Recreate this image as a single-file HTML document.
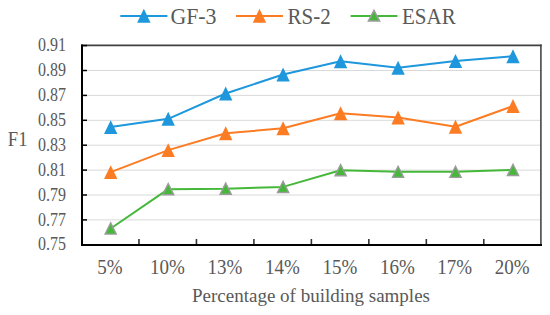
<!DOCTYPE html>
<html><head><meta charset="utf-8"><style>
html,body{margin:0;padding:0;background:#fff;}
body{width:550px;height:315px;overflow:hidden;}
svg{display:block;}
text{font-family:"Liberation Serif",serif;fill:#595959;}
.yl{font-size:16px;}
.xl{font-size:19px;}
.lg{font-size:21px;}
.tt{font-size:19px;}
.f1{font-size:18.6px;}
</style></head><body>
<svg width="550" height="315" viewBox="0 0 550 315">
<rect x="0" y="0" width="550" height="315" fill="#fff"/>
<g>
<line x1="83" y1="70.50" x2="540" y2="70.50" stroke="#D9D9D9" stroke-width="1"/>
<line x1="83" y1="95.40" x2="540" y2="95.40" stroke="#D9D9D9" stroke-width="1"/>
<line x1="83" y1="120.30" x2="540" y2="120.30" stroke="#D9D9D9" stroke-width="1"/>
<line x1="83" y1="145.20" x2="540" y2="145.20" stroke="#D9D9D9" stroke-width="1"/>
<line x1="83" y1="170.10" x2="540" y2="170.10" stroke="#D9D9D9" stroke-width="1"/>
<line x1="83" y1="195.00" x2="540" y2="195.00" stroke="#D9D9D9" stroke-width="1"/>
<line x1="83" y1="219.90" x2="540" y2="219.90" stroke="#D9D9D9" stroke-width="1"/>
<line x1="81" y1="45.4" x2="541.8" y2="45.4" stroke="#404040" stroke-width="1.7"/>
<line x1="540.9" y1="44.6" x2="540.9" y2="245" stroke="#454545" stroke-width="1.6"/>
<line x1="82" y1="44.5" x2="82" y2="246" stroke="#000" stroke-width="2"/>
<line x1="81" y1="245" x2="542" y2="245" stroke="#000" stroke-width="2"/>
<line x1="83" y1="45.60" x2="87" y2="45.60" stroke="#000" stroke-width="1.5"/>
<line x1="83" y1="70.50" x2="87" y2="70.50" stroke="#000" stroke-width="1.5"/>
<line x1="83" y1="95.40" x2="87" y2="95.40" stroke="#000" stroke-width="1.5"/>
<line x1="83" y1="120.30" x2="87" y2="120.30" stroke="#000" stroke-width="1.5"/>
<line x1="83" y1="145.20" x2="87" y2="145.20" stroke="#000" stroke-width="1.5"/>
<line x1="83" y1="170.10" x2="87" y2="170.10" stroke="#000" stroke-width="1.5"/>
<line x1="83" y1="195.00" x2="87" y2="195.00" stroke="#000" stroke-width="1.5"/>
<line x1="83" y1="219.90" x2="87" y2="219.90" stroke="#000" stroke-width="1.5"/>
<line x1="83" y1="244.80" x2="87" y2="244.80" stroke="#000" stroke-width="1.5"/>
<line x1="138.97" y1="239" x2="138.97" y2="244" stroke="#333" stroke-width="1.6"/>
<line x1="196.44" y1="239" x2="196.44" y2="244" stroke="#333" stroke-width="1.6"/>
<line x1="253.91" y1="239" x2="253.91" y2="244" stroke="#333" stroke-width="1.6"/>
<line x1="311.38" y1="239" x2="311.38" y2="244" stroke="#333" stroke-width="1.6"/>
<line x1="368.85" y1="239" x2="368.85" y2="244" stroke="#333" stroke-width="1.6"/>
<line x1="426.32" y1="239" x2="426.32" y2="244" stroke="#333" stroke-width="1.6"/>
<line x1="483.79" y1="239" x2="483.79" y2="244" stroke="#333" stroke-width="1.6"/>
<polyline points="110.70,228.50 168.20,189.20 225.70,188.70 283.10,186.90 340.60,170.20 398.10,171.80 455.50,171.80 513.00,169.90" fill="none" stroke="#45B83A" stroke-width="2.0" stroke-linejoin="round" stroke-linecap="round"/>
<polygon points="110.70,222.90 116.30,234.10 105.10,234.10" fill="#45B83A" stroke="#9C9C9C" stroke-width="1.4" stroke-linejoin="miter"/>
<polygon points="168.20,183.60 173.80,194.80 162.60,194.80" fill="#45B83A" stroke="#9C9C9C" stroke-width="1.4" stroke-linejoin="miter"/>
<polygon points="225.70,183.10 231.30,194.30 220.10,194.30" fill="#45B83A" stroke="#9C9C9C" stroke-width="1.4" stroke-linejoin="miter"/>
<polygon points="283.10,181.30 288.70,192.50 277.50,192.50" fill="#45B83A" stroke="#9C9C9C" stroke-width="1.4" stroke-linejoin="miter"/>
<polygon points="340.60,164.60 346.20,175.80 335.00,175.80" fill="#45B83A" stroke="#9C9C9C" stroke-width="1.4" stroke-linejoin="miter"/>
<polygon points="398.10,166.20 403.70,177.40 392.50,177.40" fill="#45B83A" stroke="#9C9C9C" stroke-width="1.4" stroke-linejoin="miter"/>
<polygon points="455.50,166.20 461.10,177.40 449.90,177.40" fill="#45B83A" stroke="#9C9C9C" stroke-width="1.4" stroke-linejoin="miter"/>
<polygon points="513.00,164.30 518.60,175.50 507.40,175.50" fill="#45B83A" stroke="#9C9C9C" stroke-width="1.4" stroke-linejoin="miter"/>
<polyline points="110.70,172.10 168.20,150.10 225.70,133.30 283.10,128.30 340.60,113.30 398.10,117.50 455.50,126.80 513.00,106.00" fill="none" stroke="#FC7C24" stroke-width="2.0" stroke-linejoin="round" stroke-linecap="round"/>
<polygon points="110.70,165.15 117.40,179.05 104.00,179.05" fill="#FC7C24"/>
<polygon points="168.20,143.15 174.90,157.05 161.50,157.05" fill="#FC7C24"/>
<polygon points="225.70,126.35 232.40,140.25 219.00,140.25" fill="#FC7C24"/>
<polygon points="283.10,121.35 289.80,135.25 276.40,135.25" fill="#FC7C24"/>
<polygon points="340.60,106.35 347.30,120.25 333.90,120.25" fill="#FC7C24"/>
<polygon points="398.10,110.55 404.80,124.45 391.40,124.45" fill="#FC7C24"/>
<polygon points="455.50,119.85 462.20,133.75 448.80,133.75" fill="#FC7C24"/>
<polygon points="513.00,99.05 519.70,112.95 506.30,112.95" fill="#FC7C24"/>
<polyline points="110.70,127.10 168.20,118.80 225.70,93.50 283.10,74.50 340.60,61.30 398.10,67.70 455.50,61.00 513.00,56.20" fill="none" stroke="#1E97DC" stroke-width="2.0" stroke-linejoin="round" stroke-linecap="round"/>
<polygon points="110.70,120.15 117.40,134.05 104.00,134.05" fill="#1E97DC"/>
<polygon points="168.20,111.85 174.90,125.75 161.50,125.75" fill="#1E97DC"/>
<polygon points="225.70,86.55 232.40,100.45 219.00,100.45" fill="#1E97DC"/>
<polygon points="283.10,67.55 289.80,81.45 276.40,81.45" fill="#1E97DC"/>
<polygon points="340.60,54.35 347.30,68.25 333.90,68.25" fill="#1E97DC"/>
<polygon points="398.10,60.75 404.80,74.65 391.40,74.65" fill="#1E97DC"/>
<polygon points="455.50,54.05 462.20,67.95 448.80,67.95" fill="#1E97DC"/>
<polygon points="513.00,49.25 519.70,63.15 506.30,63.15" fill="#1E97DC"/>
<line x1="120.3" y1="16" x2="167.4" y2="16" stroke="#1E97DC" stroke-width="2.2"/>
<polygon points="143.85,8.75 150.55,22.65 137.15,22.65" fill="#1E97DC"/>
<line x1="236.0" y1="16" x2="283.0" y2="16" stroke="#FC7C24" stroke-width="2.2"/>
<polygon points="259.50,8.75 266.20,22.65 252.80,22.65" fill="#FC7C24"/>
<line x1="350.6" y1="16" x2="397.4" y2="16" stroke="#45B83A" stroke-width="2.2"/>
<polygon points="374.00,10.30 379.60,21.10 368.40,21.10" fill="#45B83A" stroke="#9C9C9C" stroke-width="1.5" stroke-linejoin="miter"/>
</g>
<g>
<text transform="translate(66.00,51.20) scale(1,1.12)" text-anchor="end" class="yl">0.91</text>
<text transform="translate(66.00,76.10) scale(1,1.12)" text-anchor="end" class="yl">0.89</text>
<text transform="translate(66.00,101.00) scale(1,1.12)" text-anchor="end" class="yl">0.87</text>
<text transform="translate(66.00,125.90) scale(1,1.12)" text-anchor="end" class="yl">0.85</text>
<text transform="translate(66.00,150.80) scale(1,1.12)" text-anchor="end" class="yl">0.83</text>
<text transform="translate(66.00,175.70) scale(1,1.12)" text-anchor="end" class="yl">0.81</text>
<text transform="translate(66.00,200.60) scale(1,1.12)" text-anchor="end" class="yl">0.79</text>
<text transform="translate(66.00,225.50) scale(1,1.12)" text-anchor="end" class="yl">0.77</text>
<text transform="translate(66.00,250.40) scale(1,1.12)" text-anchor="end" class="yl">0.75</text>
<text transform="translate(109.90,273.60) scale(1,1.05)" text-anchor="middle" class="xl">5%</text>
<text transform="translate(167.40,273.60) scale(1,1.05)" text-anchor="middle" class="xl">10%</text>
<text transform="translate(224.90,273.60) scale(1,1.05)" text-anchor="middle" class="xl">13%</text>
<text transform="translate(282.30,273.60) scale(1,1.05)" text-anchor="middle" class="xl">14%</text>
<text transform="translate(339.80,273.60) scale(1,1.05)" text-anchor="middle" class="xl">15%</text>
<text transform="translate(397.30,273.60) scale(1,1.05)" text-anchor="middle" class="xl">16%</text>
<text transform="translate(454.70,273.60) scale(1,1.05)" text-anchor="middle" class="xl">17%</text>
<text transform="translate(512.20,273.60) scale(1,1.05)" text-anchor="middle" class="xl">20%</text>
<text transform="translate(7.80,145.60) scale(1,1.1)" class="f1">F1</text>
<text transform="translate(311.00,301.90) scale(1,1.0)" text-anchor="middle" class="tt">Percentage of building samples</text>
<text transform="translate(170.40,23.80) scale(1.04,1.08)" class="lg">GF-3</text>
<text transform="translate(287.50,23.80) scale(1,1.08)" class="lg">RS-2</text>
<text transform="translate(402.00,23.80) scale(1,1.08)" class="lg">ESAR</text>
</g>
</svg>
</body></html>
